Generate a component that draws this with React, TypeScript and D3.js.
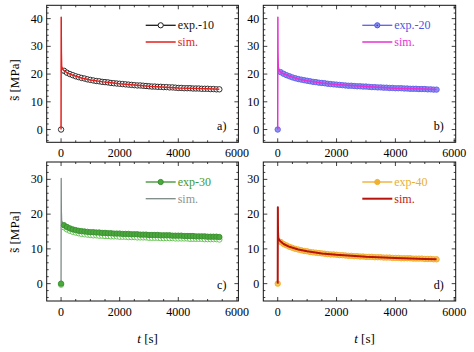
import React, { useEffect, useRef } from 'react';
import * as d3 from "d3";

// measured times [s]
const times = [
    0, 100, 200, 300, 400, 500, 600, 700, 800, 900,
    1000, 1100, 1200, 1300, 1400, 1500, 1600, 1700, 1800, 1900,
    2000, 2100, 2200, 2300, 2400, 2500, 2600, 2700, 2800, 2900,
    3000, 3100, 3200, 3300, 3400, 3500, 3600, 3700, 3800, 3900,
    4000, 4100, 4200, 4300, 4400, 4500, 4600, 4700, 4800, 4900,
    5000, 5100, 5200, 5300, 5400,
];

const exp10 = [
    0, 21.2, 20.5, 20.0, 19.6, 19.2, 18.9, 18.6, 18.4, 18.1,
    17.9, 17.7, 17.5, 17.4, 17.2, 17.1, 17.0, 16.8, 16.7, 16.6,
    16.5, 16.4, 16.3, 16.2, 16.1, 16.0, 15.9, 15.9, 15.8, 15.7,
    15.6, 15.5, 15.5, 15.4, 15.4, 15.3, 15.3, 15.2, 15.2, 15.1,
    15.0, 15.0, 14.9, 14.9, 14.9, 14.8, 14.8, 14.8, 14.7, 14.7,
    14.7, 14.6, 14.6, 14.5, 14.5,
];

const exp20 = [
    0, 20.7, 20.1, 19.6, 19.2, 18.8, 18.5, 18.2, 18.0, 17.8,
    17.6, 17.4, 17.2, 17.1, 16.9, 16.8, 16.7, 16.5, 16.4, 16.3,
    16.2, 16.1, 16.0, 15.9, 15.8, 15.8, 15.7, 15.6, 15.6, 15.5,
    15.5, 15.4, 15.3, 15.3, 15.2, 15.2, 15.1, 15.1, 15.0, 15.0,
    14.9, 14.9, 14.9, 14.8, 14.8, 14.7, 14.7, 14.7, 14.6, 14.6,
    14.6, 14.5, 14.5, 14.4, 14.4,
];

const exp30 = [
    0, 16.8, 16.3, 15.9, 15.6, 15.4, 15.2, 15.1, 15.0, 14.9,
    14.8, 14.8, 14.7, 14.7, 14.6, 14.6, 14.5, 14.5, 14.4, 14.4,
    14.4, 14.3, 14.3, 14.3, 14.2, 14.2, 14.2, 14.1, 14.1, 14.1,
    14.0, 14.0, 14.0, 14.0, 13.9, 13.9, 13.9, 13.9, 13.8, 13.8,
    13.8, 13.8, 13.7, 13.7, 13.7, 13.7, 13.6, 13.6, 13.6, 13.6,
    13.5, 13.5, 13.5, 13.5, 13.4,
];

const exp30b = [
    -0.3, 16.2, 15.6, 15.2, 14.9, 14.7, 14.5, 14.3, 14.2, 14.1,
    14.0, 13.9, 13.9, 13.8, 13.8, 13.7, 13.7, 13.6, 13.6, 13.6,
    13.5, 13.5, 13.5, 13.4, 13.4, 13.4, 13.3, 13.3, 13.3, 13.3,
    13.2, 13.2, 13.2, 13.2, 13.1, 13.1, 13.1, 13.1, 13.1, 13.0,
    13.0, 13.0, 13.0, 13.0, 12.9, 12.9, 12.9, 12.9, 12.9, 12.8,
    12.8, 12.8, 12.8, 12.8, 12.7,
];

const exp40 = [
    0, 12.0, 11.4, 11.0, 10.6, 10.3, 10.0, 9.8, 9.6, 9.4,
    9.3, 9.1, 9.0, 8.9, 8.8, 8.7, 8.6, 8.5, 8.4, 8.4,
    8.3, 8.2, 8.2, 8.1, 8.0, 8.0, 7.9, 7.9, 7.8, 7.8,
    7.7, 7.7, 7.7, 7.6, 7.6, 7.6, 7.5, 7.5, 7.5, 7.4,
    7.4, 7.4, 7.3, 7.3, 7.3, 7.3, 7.2, 7.2, 7.2, 7.2,
    7.1, 7.1, 7.1, 7.0, 7.0,
];

// simulation
const simTimes = [0, 5, 10, 20, 50, 100, 200, 400, 700, 1000, 1500, 2000, 3000, 4000, 5000, 5400];
const sim10 = [0, 40.5, 28, 22.8, 21.8, 21.2, 20.5, 19.6, 18.6, 17.9, 17.1, 16.5, 15.6, 15.0, 14.7, 14.5];
const sim20 = [0, 40.5, 28, 22.5, 21.4, 20.7, 20.1, 19.2, 18.2, 17.6, 16.8, 16.2, 15.5, 14.9, 14.6, 14.4];
const sim30 = [0, 30.3, 21, 18.2, 17.4, 16.9, 16.3, 15.6, 15.1, 14.8, 14.5, 14.3, 14.0, 13.8, 13.6, 13.4];
const sim40 = [0, 22, 15, 13.2, 12.6, 12.1, 11.4, 10.6, 9.8, 9.3, 8.7, 8.3, 7.7, 7.4, 7.1, 7.0];

const xTicks = [0, 2000, 4000, 6000];
const yTicksTop = [0, 10, 20, 30, 40];
const yTicksBottom = [0, 10, 20, 30];

const FONT = "'Liberation Serif', 'Times New Roman', serif";

type Series = { values: number[], fill: string, stroke: string };

const panels = [
    {
        tag: "a)", left: 46.7, right: 238.4, top: 5.3, bottom: 142.3, yDomain: [-4.6, 44.8], yTicks: yTicksTop,
        markers: [{ values: exp10, fill: "#ffffff", stroke: "#1a1a1a" }] as Series[],
        sim: sim10, simColor: "#e3211c", simWidth: 1.5, simOnTop: true,
        expLabel: "exp.-10", expColor: "#111111", simLabelColor: "#e3211c",
        legendMarker: { fill: "#ffffff", stroke: "#1a1a1a", dot: false },
        xLabel: false, yLabelY: 80,
    },
    {
        tag: "b)", left: 263.3, right: 455.7, top: 5.3, bottom: 142.3, yDomain: [-4.6, 44.8], yTicks: yTicksTop,
        markers: [{ values: exp20, fill: "#8c90f4", stroke: "#5a60e8" }] as Series[],
        sim: sim20, simColor: "#e632d2", simWidth: 1.5, simOnTop: true,
        expLabel: "exp.-20", expColor: "#4b55e6", simLabelColor: "#e632d2",
        legendMarker: { fill: "#8c90f4", stroke: "#4b55e6", dot: true },
        xLabel: false, yLabelY: 0,
    },
    {
        tag: "c)", left: 46.7, right: 238.4, top: 162, bottom: 301, yDomain: [-5, 35], yTicks: yTicksBottom,
        markers: [
            { values: exp30b, fill: "#ffffff", stroke: "#5cc04a" },
            { values: exp30, fill: "#4aa83c", stroke: "#3a9030" },
        ] as Series[],
        sim: sim30, simColor: "#7d8a86", simWidth: 1.3, simOnTop: false,
        expLabel: "exp-30", expColor: "#3a9a30", simLabelColor: "#8a9490",
        legendMarker: { fill: "#4aa83c", stroke: "#3a9030", dot: false },
        xLabel: true, yLabelY: 232,
    },
    {
        tag: "d)", left: 263.3, right: 455.7, top: 162, bottom: 301, yDomain: [-5, 35], yTicks: yTicksBottom,
        markers: [{ values: exp40, fill: "#f8c850", stroke: "#f0a828" }] as Series[],
        sim: sim40, simColor: "#b8140c", simWidth: 2, simOnTop: true,
        expLabel: "exp-40", expColor: "#e8b030", simLabelColor: "#c0180e",
        legendMarker: { fill: "#f0b030", stroke: "#f0b030", dot: false },
        xLabel: true, yLabelY: 0,
    },
];

export default function App() {
    const svgRef = useRef(null);

    const drawChart = () => {
        const svg = d3.select(svgRef.current);
        svg.selectAll("*").remove();

        panels.forEach((p) => {
            const x = d3.scaleLinear().domain([-490, 6050]).range([p.left, p.right]);
            const y = d3.scaleLinear().domain(p.yDomain).range([p.bottom, p.top]);
            const g = svg.append("g");

            const clip = `clip-${p.tag[0]}`;
            g.append("clipPath").attr("id", clip)
                .append("rect")
                .attr("x", p.left).attr("y", p.top)
                .attr("width", p.right - p.left).attr("height", p.bottom - p.top);

            const plot = g.append("g").attr("clip-path", `url(#${clip})`);

            const line = d3.line<number>()
                .x((_, i) => x(simTimes[i]))
                .y((d) => y(d));

            const drawSim = () => plot.append("path")
                .datum(p.sim)
                .attr("d", line)
                .attr("fill", "none")
                .attr("stroke", p.simColor)
                .attr("stroke-width", p.simWidth)
                .attr("stroke-linejoin", "round");

            if (!p.simOnTop) drawSim();

            p.markers.forEach((s) => {
                plot.selectAll(null)
                    .data(s.values)
                    .enter()
                    .append("circle")
                    .attr("cx", (_, i) => x(times[i]))
                    .attr("cy", (d) => y(d))
                    .attr("r", 2.7)
                    .attr("fill", s.fill)
                    .attr("stroke", s.stroke)
                    .attr("stroke-width", 0.9);
            });

            if (p.simOnTop) drawSim();

            // frame + ticks on all sides (inward)
            const [y0, y1] = p.yDomain;
            const xMinor = d3.range(-500, 6001, 500).filter((v) => v >= -490 && v <= 6050);
            const yMinor = d3.range(Math.ceil(y0 / 2) * 2, y1, 2);

            const ticks = g.append("g").attr("stroke", "#111").attr("stroke-width", 0.8);
            xMinor.forEach((v) => {
                const len = v % 2000 === 0 ? 4 : 2;
                ticks.append("line").attr("x1", x(v)).attr("x2", x(v)).attr("y1", p.bottom).attr("y2", p.bottom - len);
                ticks.append("line").attr("x1", x(v)).attr("x2", x(v)).attr("y1", p.top).attr("y2", p.top + len);
            });
            yMinor.forEach((v) => {
                const len = v % 10 === 0 ? 4 : 2;
                ticks.append("line").attr("y1", y(v)).attr("y2", y(v)).attr("x1", p.left).attr("x2", p.left + len);
                ticks.append("line").attr("y1", y(v)).attr("y2", y(v)).attr("x1", p.right).attr("x2", p.right - len);
            });

            g.append("rect")
                .attr("x", p.left).attr("y", p.top)
                .attr("width", p.right - p.left).attr("height", p.bottom - p.top)
                .attr("fill", "none").attr("stroke", "#111").attr("stroke-width", 1);

            // tick labels
            g.selectAll(null)
                .data(xTicks)
                .enter()
                .append("text")
                .attr("x", (d) => x(d))
                .attr("y", p.bottom + 15)
                .attr("text-anchor", "middle")
                .attr("font-family", FONT)
                .attr("font-size", 12)
                .text((d) => d);

            g.selectAll(null)
                .data(p.yTicks)
                .enter()
                .append("text")
                .attr("x", p.left - 4)
                .attr("y", (d) => y(d) + 4)
                .attr("text-anchor", "end")
                .attr("font-family", FONT)
                .attr("font-size", 12)
                .text((d) => d);

            // panel tag
            g.append("text")
                .attr("x", p.right - 12)
                .attr("y", p.bottom - 12)
                .attr("text-anchor", "end")
                .attr("font-family", FONT)
                .attr("font-size", 12)
                .text(p.tag);

            // legend
            const lx = p.left + 99;
            const ly1 = p.top + 20;
            const ly2 = p.top + 36.7;
            g.append("line").attr("x1", lx).attr("x2", lx + 30).attr("y1", ly1).attr("y2", ly1)
                .attr("stroke", p.markers[p.markers.length - 1].stroke).attr("stroke-width", 1.3);
            g.append("circle").attr("cx", lx + 15).attr("cy", ly1).attr("r", 2.6)
                .attr("fill", p.legendMarker.fill).attr("stroke", p.legendMarker.stroke).attr("stroke-width", 1);
            if (p.legendMarker.dot) {
                g.append("circle").attr("cx", lx + 15).attr("cy", ly1).attr("r", 0.9).attr("fill", "#3a40c0");
            }
            g.append("text").attr("x", lx + 32).attr("y", ly1 + 4)
                .attr("font-family", FONT).attr("font-size", 12).attr("fill", p.expColor)
                .text(p.expLabel);

            g.append("line").attr("x1", lx).attr("x2", lx + 30).attr("y1", ly2).attr("y2", ly2)
                .attr("stroke", p.simColor).attr("stroke-width", p.simWidth);
            g.append("text").attr("x", lx + 32).attr("y", ly2 + 4)
                .attr("font-family", FONT).attr("font-size", 12).attr("fill", p.simLabelColor)
                .text("sim.");

            // axis titles
            if (p.yLabelY) {
                g.append("text")
                    .attr("transform", `translate(19,${p.yLabelY}) rotate(-90)`)
                    .attr("text-anchor", "middle")
                    .attr("font-family", FONT)
                    .attr("font-size", 13)
                    .text("s\u0303 [MPa]");
            }
            if (p.xLabel) {
                const t = g.append("text")
                    .attr("x", (p.left + p.right) / 2 + 5)
                    .attr("y", 343)
                    .attr("text-anchor", "middle")
                    .attr("font-family", FONT)
                    .attr("font-size", 13);
                t.append("tspan").attr("font-style", "italic").text("t");
                t.append("tspan").text(" [s]");
            }
        });
    };

    useEffect(() => {
        drawChart();
    }, []);

    return (
        <svg ref={svgRef} width={474} height={352}
            style={{ position: "absolute", left: 0, top: 0, background: "#fff" }} />
    );
}
